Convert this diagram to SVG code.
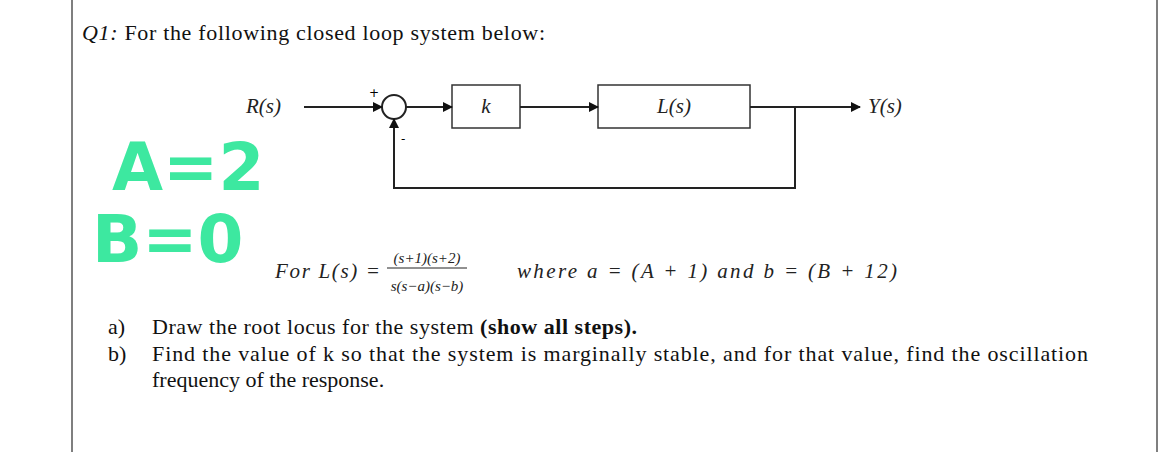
<svg xmlns="http://www.w3.org/2000/svg" width="1170" height="452" viewBox="0 0 1170 452">
<style>
.t{font-family:"Liberation Serif",serif;font-size:22px;fill:#111}
.m{font-family:"Liberation Serif",serif;font-style:italic;font-size:21px;fill:#222}
.s{font-family:"Liberation Serif",serif;font-style:italic;font-size:15px;fill:#222}
.ln{stroke:#222;stroke-width:2;fill:none}
.bx{stroke:#333;stroke-width:1.5;fill:#fff}
.h{font-family:"DejaVu Sans",sans-serif;font-weight:bold;font-size:66px;fill:#3de8a0}
</style>
<defs><marker id="a" markerWidth="10" markerHeight="10" refX="9" refY="5" orient="auto" markerUnits="userSpaceOnUse"><path d="M0,0L10,5L0,10z" fill="#111"/></marker></defs>
<rect width="1170" height="452" fill="#fff"/>
<line x1="72" y1="0" x2="72" y2="452" stroke="#555" stroke-width="1.5"/>
<line x1="1157" y1="0" x2="1157" y2="452" stroke="#555" stroke-width="1.5"/>
<text class="t" x="82" y="40" textLength="463"><tspan font-style="italic">Q1:</tspan> For the following closed loop system below:</text>
<g id="hand"><text class="h" x="112" y="190">A=2</text><text class="h" x="92" y="262">B=0</text></g>
<g id="R"><text class="m" x="246" y="113" font-size="19">R(s)</text></g>
<g id="sum"><circle cx="394" cy="107" r="12" class="ln"/><text x="369" y="97" font-family="DejaVu Sans" font-size="12">+</text><text x="401" y="143" font-family="DejaVu Sans" font-size="12">-</text></g>
<g id="k"><rect class="bx" x="452" y="85" width="68" height="43"/><text class="m" x="486" y="113" text-anchor="middle" font-size="19">k</text></g>
<g id="L"><rect class="bx" x="598" y="85" width="152" height="43"/><text class="m" x="674" y="113" text-anchor="middle" font-size="19">L(s)</text></g>
<g id="Y"><text class="m" x="868" y="113" font-size="19">Y(s)</text></g>
<g id="connectors">
<line class="ln" x1="304" y1="107" x2="382" y2="107" marker-end="url(#a)"/>
<line class="ln" x1="406" y1="107" x2="452" y2="107" marker-end="url(#a)"/>
<line class="ln" x1="520" y1="107" x2="598" y2="107" marker-end="url(#a)"/>
<line class="ln" x1="750" y1="107" x2="860" y2="107" marker-end="url(#a)"/>
<polyline class="ln" points="795,107 795,188 394,188 394,119" marker-end="url(#a)"/>
</g>
<g id="formula">
<text class="m" x="275" y="278" textLength="105">For L(s) =</text>
<text class="s" x="427" y="263" text-anchor="middle">(s+1)(s+2)</text>
<line x1="387" y1="268" x2="467" y2="268" stroke="#222" stroke-width="1"/>
<text class="s" x="427" y="291" text-anchor="middle">s(s−a)(s−b)</text>
<text class="m" x="517" y="278" textLength="380">where  a = (A + 1)  and  b = (B + 12)</text>
</g>
<text class="t" x="108" y="334">a)</text><text class="t" x="152" y="334" textLength="485">Draw the root locus for the system <tspan font-weight="bold">(show all steps).</tspan></text>
<text class="t" x="108" y="361">b)</text><text class="t" x="152" y="361" textLength="936">Find the value of k so that the system is marginally stable, and for that value, find the oscillation</text>
<text class="t" x="152" y="387">frequency of the response.</text>
</svg>
